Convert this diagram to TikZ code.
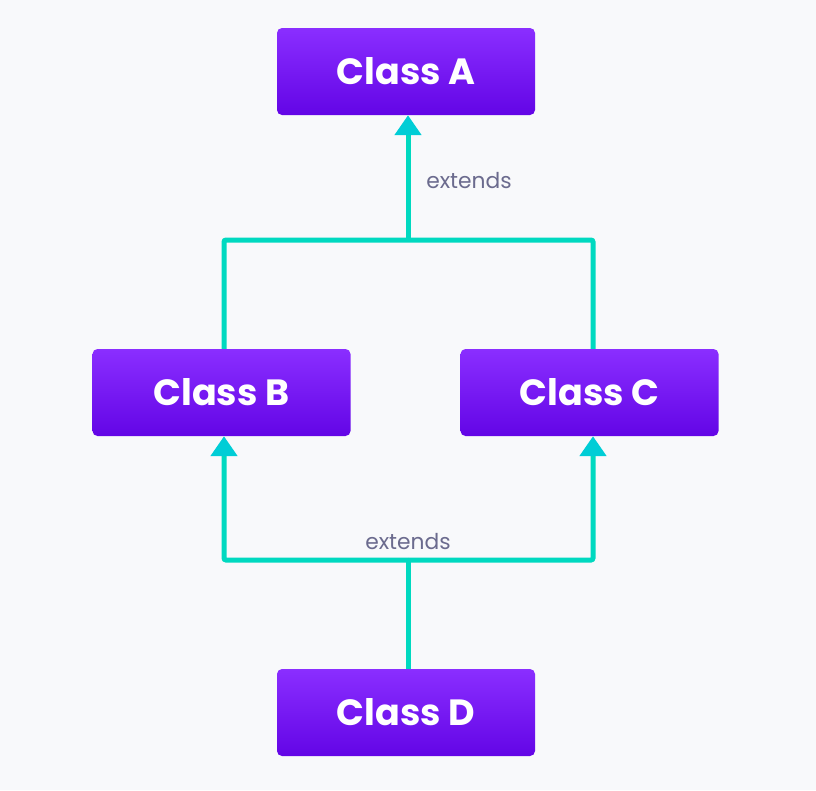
\documentclass[tikz,border=0pt]{standalone}
\usepackage{fontspec}
\setmainfont{Poppins}
\usepackage{tikz}
\usetikzlibrary{arrows.meta,positioning,calc}
\definecolor{bgcol}{HTML}{F8F9FB}
\definecolor{purpletop}{HTML}{8A2EFF}
\definecolor{purplebot}{HTML}{6305E6}
\definecolor{linkcol}{HTML}{00D9C0}
\definecolor{tipcol}{HTML}{00CDD6}
\definecolor{labelcol}{HTML}{6B6B8E}
\tikzset{
classbox/.style = {rectangle, rounded corners=5pt, top color=purpletop, bottom color=purplebot, draw=none, text=white, font=\fontsize{36.5}{42}\selectfont\bfseries, minimum width=258pt, minimum height=87pt, inner sep=0pt},
link/.style = {draw=linkcol, line width=5pt, rounded corners=2pt},
tip/.style = {-{Triangle[width=26pt,length=20pt,color=tipcol]}},
lbl/.style = {text=labelcol, font=\fontsize{21.8}{26}\selectfont, inner sep=0pt}
}
\begin{document}
\begin{tikzpicture}[x=1pt,y=-1pt]
    \fill [bgcol] (0,0) rectangle (816,790);
    \useasboundingbox (0,0) rectangle (816,790);

    \node [classbox] (classA) at (406,71.5) {Class A};
    \node [classbox] (classB) at (221.5,392.5) {Class B};
    \node [classbox] (classC) at (589.5,392.5) {Class C};
    \node [classbox] (classD) at (406,712.5) {Class D};

    \coordinate (upper) at (408,240);
    \coordinate (lower) at (408,560);

    \draw [link] (classB.north -| 224,0) |- (upper) -| (classC.north -| 593,0);
    \draw [link,tip] (upper) -- (upper |- classA.south);
    \draw [link] (lower |- classD.north) -- (lower);
    \draw [link,tip] (lower) -| (classB.south -| 224,0);
    \draw [link,tip] (lower) -| (classC.south -| 593,0);

    \node [lbl] (ext1) at (469,181) {extends};
    \node [lbl] (ext2) at (408,542) {extends};
\end{tikzpicture}
\end{document}
